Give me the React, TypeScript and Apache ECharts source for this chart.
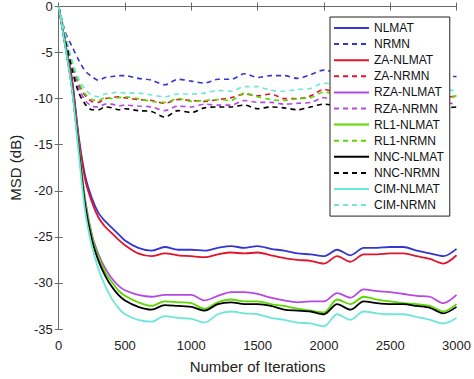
import React, { useEffect, useRef } from "react";
import * as echarts from "echarts";

const iterations = [0, 50, 100, 150, 200, 250, 300, 350, 400, 450, 500, 600, 700, 800, 900, 1000, 1100, 1200, 1300, 1400, 1500, 1600, 1700, 1800, 1900, 2000, 2100, 2200, 2300, 2400, 2500, 2600, 2700, 2800, 2900, 3000];

const nlmat = [0, -4.0, -7.8, -14.0, -18.4, -20.8, -22.4, -23.3, -24.0, -24.7, -25.4, -26.2, -26.5, -26.1, -26.4, -26.4, -26.5, -26.2, -26.0, -26.2, -26.0, -26.3, -26.5, -26.8, -26.9, -27.1, -26.4, -27.0, -26.2, -26.2, -26.1, -26.1, -26.5, -26.8, -27.1, -26.3];
const nrmn = [0, -2.8, -4.3, -5.8, -7.0, -7.6, -8.0, -7.7, -7.6, -7.5, -7.5, -7.8, -8.0, -8.5, -7.9, -8.1, -8.3, -7.9, -7.9, -7.3, -7.7, -7.5, -7.5, -7.8, -7.4, -6.9, -7.2, -7.4, -7.1, -7.3, -7.0, -7.2, -7.4, -7.3, -7.6, -7.6];
const zaNlmat = [0, -4.1, -8.0, -14.3, -18.8, -21.2, -22.9, -23.9, -24.6, -25.3, -25.9, -26.8, -27.1, -26.8, -27.0, -27.1, -27.2, -26.9, -26.7, -26.8, -26.7, -27.0, -27.3, -27.5, -27.6, -27.9, -27.1, -27.7, -26.9, -26.9, -26.8, -26.8, -27.1, -27.4, -27.9, -27.0];
const zaNrmn = [0, -3.1, -6.2, -8.4, -9.7, -10.3, -10.4, -10.0, -9.9, -9.8, -9.9, -10.1, -10.2, -10.5, -10.1, -10.2, -10.3, -10.1, -9.9, -9.5, -9.7, -9.5, -10.0, -10.0, -9.7, -9.0, -9.4, -9.6, -9.3, -9.5, -9.4, -9.6, -9.7, -9.6, -9.8, -9.8];
const rzaNlmat = [0, -4.2, -8.7, -15.0, -21.0, -24.7, -26.9, -28.4, -29.5, -30.3, -30.8, -31.3, -31.5, -31.3, -31.3, -31.3, -31.9, -31.4, -31.0, -31.0, -31.2, -31.6, -31.9, -32.1, -32.0, -32.0, -31.1, -31.6, -30.7, -30.9, -31.0, -31.2, -31.4, -31.5, -32.2, -31.3];
const rzaNrmn = [0, -3.2, -6.5, -8.8, -10.2, -10.8, -10.9, -10.6, -10.6, -10.8, -10.7, -10.8, -10.9, -11.3, -10.8, -10.9, -10.6, -10.7, -10.7, -10.2, -10.4, -10.4, -10.6, -10.5, -10.4, -9.9, -10.1, -10.3, -10.1, -10.3, -10.2, -10.3, -10.4, -10.3, -10.4, -10.6];
const rl1Nlmat = [0, -4.2, -8.7, -15.0, -21.2, -24.9, -27.2, -28.8, -29.9, -30.8, -31.4, -32.1, -32.5, -32.0, -32.1, -32.2, -32.8, -32.1, -31.8, -32.0, -32.0, -32.3, -32.5, -32.8, -33.0, -33.2, -31.8, -32.3, -31.5, -31.8, -32.0, -32.2, -32.3, -32.5, -33.1, -32.3];
const rl1Nrmn = [0, -3.1, -6.1, -8.2, -9.5, -10.1, -10.2, -9.9, -10.0, -9.9, -9.8, -10.0, -10.3, -10.4, -10.0, -10.3, -10.2, -10.1, -10.2, -9.4, -9.8, -10.1, -10.2, -10.0, -9.9, -9.3, -9.5, -9.7, -9.4, -9.6, -9.5, -9.7, -9.8, -9.7, -9.8, -9.7];
const nncNlmat = [0, -4.3, -8.8, -15.3, -21.6, -25.3, -27.6, -29.2, -30.4, -31.3, -31.9, -32.6, -32.9, -32.4, -32.5, -32.6, -33.0, -32.3, -32.1, -32.3, -32.3, -32.5, -32.9, -33.0, -33.1, -33.4, -32.3, -32.9, -32.0, -32.2, -32.3, -32.3, -32.5, -32.7, -33.3, -32.6];
const nncNrmn = [0, -3.3, -6.8, -9.3, -10.6, -11.2, -11.2, -10.9, -11.0, -11.2, -11.1, -11.3, -11.4, -12.0, -11.3, -11.5, -11.0, -10.9, -10.9, -10.7, -11.1, -10.9, -11.0, -11.2, -10.9, -10.6, -10.8, -10.9, -10.7, -10.9, -10.8, -10.9, -11.0, -10.9, -11.0, -10.9];
const cimNlmat = [0, -4.4, -9.0, -15.8, -22.3, -26.0, -28.5, -30.3, -31.7, -32.7, -33.4, -34.0, -34.2, -33.6, -33.8, -33.9, -34.3, -33.4, -33.1, -33.3, -33.4, -33.8, -34.0, -34.3, -34.4, -34.7, -33.4, -34.0, -33.1, -33.3, -33.4, -33.4, -33.7, -34.0, -34.4, -33.8];
const cimNrmn = [0, -3.0, -5.8, -7.8, -9.0, -9.6, -9.8, -9.5, -9.4, -9.3, -9.4, -9.4, -9.6, -9.8, -9.5, -9.5, -9.4, -9.1, -9.2, -8.7, -8.7, -9.1, -9.2, -9.0, -8.9, -8.3, -8.6, -8.8, -8.5, -8.7, -8.6, -8.8, -8.9, -8.8, -9.1, -9.1];

const seriesDefs = [
  { name: "NLMAT", values: nlmat, color: "#3535d0", dashed: false },
  { name: "NRMN", values: nrmn, color: "#3535d0", dashed: true },
  { name: "ZA-NLMAT", values: zaNlmat, color: "#e0142c", dashed: false },
  { name: "ZA-NRMN", values: zaNrmn, color: "#e0142c", dashed: true },
  { name: "RZA-NLMAT", values: rzaNlmat, color: "#b648e4", dashed: false },
  { name: "RZA-NRMN", values: rzaNrmn, color: "#b648e4", dashed: true },
  { name: "RL1-NLMAT", values: rl1Nlmat, color: "#5cd800", dashed: false },
  { name: "RL1-NRMN", values: rl1Nrmn, color: "#5cd800", dashed: true },
  { name: "NNC-NLMAT", values: nncNlmat, color: "#000000", dashed: false },
  { name: "NNC-NRMN", values: nncNrmn, color: "#000000", dashed: true },
  { name: "CIM-NLMAT", values: cimNlmat, color: "#6ee6d8", dashed: false },
  { name: "CIM-NRMN", values: cimNrmn, color: "#6ee6d8", dashed: true },
];

const xTicks = { min: 0, max: 3000, interval: 500 };
const yTicks = { min: -35, max: 0, interval: 5 };

const FONT = "'Liberation Sans', Arial, sans-serif";
const AXIS_COLOR = "#6a6a6a";

export default function App() {
  const ref = useRef<HTMLDivElement>(null);
  useEffect(() => {
    if (!ref.current) return;
    const chart = echarts.init(ref.current, null, { renderer: "svg" });
    const axisCommon = {
      axisLine: { show: true, lineStyle: { color: AXIS_COLOR, width: 1 } },
      axisTick: { show: true, inside: true, length: 4, lineStyle: { color: AXIS_COLOR } },
      splitLine: { show: false },
    };
    const plain = (v: number) => String(v);
    chart.setOption({
      animation: false,
      backgroundColor: "#ffffff",
      textStyle: { fontFamily: FONT },
      grid: { left: 49, right: 15, top: 5, bottom: 43 },
      legend: {
        orient: "vertical",
        left: 330,
        top: 17,
        padding: [5, 6, 5, 3],
        itemWidth: 35,
        itemHeight: 12,
        itemGap: 4.1,
        backgroundColor: "#ffffff",
        borderColor: "#222222",
        borderWidth: 1,
        borderRadius: 0,
        itemStyle: { opacity: 0 },
        textStyle: { fontFamily: FONT, fontSize: 12, color: "#111111" },
        data: seriesDefs.map((s) => s.name),
      },
      xAxis: [
        {
          type: "value",
          ...xTicks,
          position: "bottom",
          ...axisCommon,
          axisLabel: { show: true, fontSize: 13, color: "#222222", margin: 10, fontFamily: FONT, formatter: plain },
          name: "Number of Iterations",
          nameLocation: "middle",
          nameGap: 30,
          nameTextStyle: { fontSize: 15, color: "#222222", fontFamily: FONT },
        },
        {
          type: "value",
          ...xTicks,
          position: "top",
          ...axisCommon,
          axisLabel: { show: false },
        },
      ],
      yAxis: [
        {
          type: "value",
          ...yTicks,
          position: "left",
          ...axisCommon,
          axisLabel: { show: true, fontSize: 13, color: "#222222", margin: 6, fontFamily: FONT, formatter: plain },
          name: "MSD (dB)",
          nameLocation: "middle",
          nameGap: 31,
          nameTextStyle: { fontSize: 15, color: "#222222", fontFamily: FONT },
        },
        {
          type: "value",
          ...yTicks,
          position: "right",
          ...axisCommon,
          axisLabel: { show: false },
        },
      ],
      series: seriesDefs.map((s) => ({
        name: s.name,
        type: "line",
        xAxisIndex: 0,
        yAxisIndex: 0,
        showSymbol: false,
        symbol: "none",
        smooth: 0.3,
        color: s.color,
        lineStyle: {
          color: s.color,
          width: s.dashed ? 1.6 : 1.8,
          type: s.dashed ? [5, 4] : "solid",
        },
        data: iterations.map((x, i) => [x, s.values[i]]),
      })),
    });
    return () => chart.dispose();
  }, []);
  return (
    <div
      ref={ref}
      style={{ position: "fixed", left: 0, top: 0, width: 474, height: 379 }}
    />
  );
}
